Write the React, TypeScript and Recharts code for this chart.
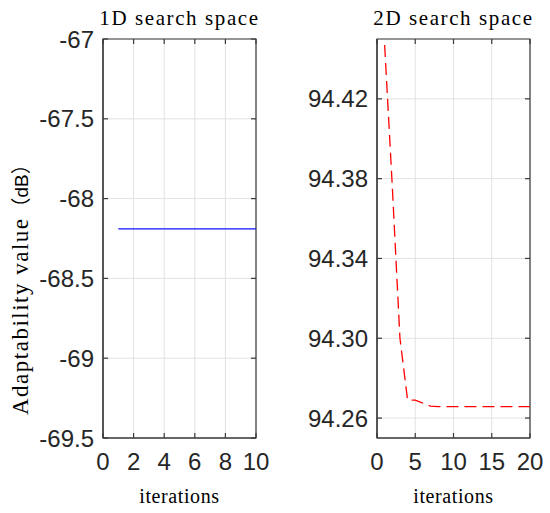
import { LineChart, Line, XAxis, YAxis, CartesianGrid, ReferenceArea, ReferenceLine } from "recharts";

// 1D search space
const iter1D = [1, 2, 3, 4, 5, 6, 7, 8, 9, 10];
const fit1D = [-68.19, -68.19, -68.19, -68.19, -68.19, -68.19, -68.19, -68.19, -68.19, -68.19];
const xTicks1D = [0, 2, 4, 6, 8, 10];
const yTicks1D = [-69.5, -69, -68.5, -68, -67.5, -67];

// 2D search space
const iter2D = [1, 2, 3, 4, 5, 6, 7, 8, 9, 10, 11, 12, 13, 14, 15, 16, 17, 18, 19, 20];
const fit2D = [
  94.447, 94.376, 94.3, 94.269, 94.269, 94.2675, 94.266, 94.2657, 94.2657, 94.2657,
  94.2657, 94.2657, 94.2657, 94.2657, 94.2657, 94.2657, 94.2657, 94.2657, 94.2657, 94.2657,
];
const xTicks2D = [0, 5, 10, 15, 20];
const yTicks2D = [94.26, 94.3, 94.34, 94.38, 94.42];

const data1D = iter1D.map((it, i) => ({ it, v: fit1D[i] }));
const data2D = iter2D.map((it, i) => ({ it, v: fit2D[i] }));

const AXIS = "#3a3a3a";
const GRID = "#e2e2e2";
const TICK_LEN = 5;
const tickFont = { fontSize: 24, fontFamily: "'Liberation Sans', Arial, sans-serif", fill: "#262626" };
const serif = "'Liberation Serif', 'Times New Roman', serif";

// short inward tick on the top edge of the box
const TopTick = (p: any) => {
  const top = Math.min(p.y1, p.y2);
  return <line x1={p.x1} x2={p.x1} y1={top} y2={top + TICK_LEN} stroke={AXIS} strokeWidth={1.2} />;
};
// short inward tick on the right edge of the box
const RightTick = (p: any) => {
  const r = Math.max(p.x1, p.x2);
  return <line x1={r - TICK_LEN} x2={r} y1={p.y1} y2={p.y1} stroke={AXIS} strokeWidth={1.2} />;
};

type PanelProps = {
  data: { it: number; v: number }[];
  xDomain: [number, number];
  yDomain: [number, number];
  xTicks: number[];
  yTicks: number[];
  yFmt: (v: number) => string;
  yWidth: number;
  right: number;
  color: string;
  dash?: string;
};

function Panel({ data, xDomain, yDomain, xTicks, yTicks, yFmt, yWidth, right, color, dash }: PanelProps) {
  return (
    <LineChart width={275} height={513} data={data} margin={{ top: 39, right, bottom: 0, left: 0 }}>
      <CartesianGrid stroke={GRID} strokeWidth={1} />
      <XAxis
        dataKey="it"
        type="number"
        domain={xDomain}
        ticks={xTicks}
        allowDataOverflow
        height={75}
        stroke={AXIS}
        strokeWidth={1.2}
        tickSize={-TICK_LEN}
        tickMargin={20}
        tick={tickFont}
        interval={0}
      />
      <YAxis
        type="number"
        domain={yDomain}
        ticks={yTicks}
        allowDataOverflow
        width={yWidth}
        stroke={AXIS}
        strokeWidth={1.2}
        tickSize={-TICK_LEN}
        tickMargin={14}
        tick={tickFont}
        tickFormatter={yFmt}
        interval={0}
      />
      <ReferenceArea
        x1={xDomain[0]}
        x2={xDomain[1]}
        y1={yDomain[0]}
        y2={yDomain[1]}
        fill="none"
        fillOpacity={0}
        stroke={AXIS}
        strokeWidth={1.2}
        ifOverflow="visible"
      />
      {xTicks.map((t) => (
        <ReferenceLine key={"x" + t} x={t} shape={TopTick} ifOverflow="visible" />
      ))}
      {yTicks.map((t) => (
        <ReferenceLine key={"y" + t} y={t} shape={RightTick} ifOverflow="visible" />
      ))}
      <Line
        dataKey="v"
        type="linear"
        stroke={color}
        strokeWidth={1.3}
        strokeDasharray={dash}
        dot={false}
        isAnimationActive={false}
      />
    </LineChart>
  );
}

export default function App() {
  return (
    <div style={{ position: "absolute", left: 0, top: 0, width: 550, height: 513, background: "#fff" }}>
      <div style={{ position: "absolute", left: 0, top: 0 }}>
        <Panel
          data={data1D}
          xDomain={[0, 10]}
          yDomain={[-69.5, -67]}
          xTicks={xTicks1D}
          yTicks={yTicks1D}
          yFmt={(v) => String(v)}
          yWidth={103}
          right={19}
          color="#1010ff"
        />
      </div>
      <div style={{ position: "absolute", left: 275, top: 0 }}>
        <Panel
          data={data2D}
          xDomain={[0, 20]}
          yDomain={[94.25, 94.45]}
          xTicks={xTicks2D}
          yTicks={yTicks2D}
          yFmt={(v) => v.toFixed(2)}
          yWidth={102}
          right={20}
          color="#ff0000"
          dash="12 6"
        />
      </div>
      <svg width={550} height={513} style={{ position: "absolute", left: 0, top: 0, pointerEvents: "none" }}>
        <text x={179.5} y={25} textAnchor="middle" fontFamily={serif} fontSize={21} letterSpacing={1.6} fill="#000">
          1D search space
        </text>
        <text x={453.5} y={25} textAnchor="middle" fontFamily={serif} fontSize={21} letterSpacing={1.6} fill="#000">
          2D search space
        </text>
        <text x={179.5} y={503} textAnchor="middle" fontFamily={serif} fontSize={20} letterSpacing={0.6} fill="#000">
          iterations
        </text>
        <text x={453.5} y={503} textAnchor="middle" fontFamily={serif} fontSize={20} letterSpacing={0.6} fill="#000">
          iterations
        </text>
        <text transform="translate(28,415) rotate(-90)" fontFamily={serif} fontSize={23} letterSpacing={1.5} fill="#000">
          Adaptability value
          <tspan fontFamily="'Noto Sans CJK SC', sans-serif" fontSize={20} letterSpacing={0}>（</tspan>
          <tspan fontFamily="'Liberation Sans', Arial, sans-serif" fontSize={19} letterSpacing={0}>dB</tspan>
          <tspan fontFamily="'Noto Sans CJK SC', sans-serif" fontSize={20} letterSpacing={0}>）</tspan>
        </text>
      </svg>
    </div>
  );
}
